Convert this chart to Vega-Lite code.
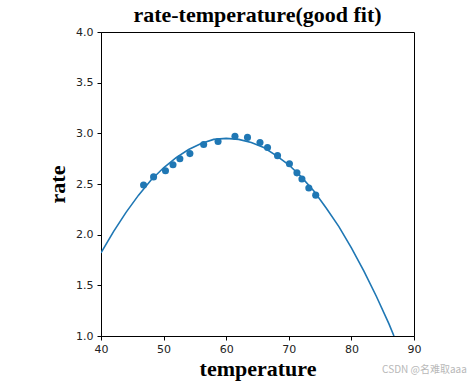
{
  "$schema": "https://vega.github.io/schema/vega-lite/v6.json",
  "width": 313,
  "height": 304,
  "autosize": {"type": "none"},
  "padding": {"left": 101, "top": 32, "right": 60, "bottom": 50},
  "background": "white",
  "title": {
    "text": "rate-temperature(good fit)",
    "font": "Liberation Serif",
    "fontSize": 22,
    "fontWeight": "bold",
    "color": "black",
    "anchor": "middle",
    "frame": "group",
    "offset": -1
  },
  "config": {
    "view": {"stroke": "black", "strokeWidth": 1},
    "axis": {
      "grid": false,
      "domainColor": "black",
      "tickColor": "black",
      "tickSize": 4,
      "labelFlush": false,
      "labelFont": "DejaVu Sans",
      "labelFontSize": 11,
      "labelColor": "#222",
      "titleFont": "Liberation Serif",
      "titleFontSize": 22,
      "titleFontWeight": "bold",
      "titleColor": "black"
    }
  },
  "datasets": {
    "obs": [
      {"temperature": 46.8, "rate": 2.49},
      {"temperature": 48.4, "rate": 2.57},
      {"temperature": 50.3, "rate": 2.63},
      {"temperature": 51.5, "rate": 2.69},
      {"temperature": 52.6, "rate": 2.75},
      {"temperature": 54.2, "rate": 2.80},
      {"temperature": 56.4, "rate": 2.89},
      {"temperature": 58.7, "rate": 2.92},
      {"temperature": 61.4, "rate": 2.97},
      {"temperature": 63.4, "rate": 2.96},
      {"temperature": 65.4, "rate": 2.91},
      {"temperature": 66.6, "rate": 2.86},
      {"temperature": 68.2, "rate": 2.78},
      {"temperature": 70.1, "rate": 2.70},
      {"temperature": 71.3, "rate": 2.61},
      {"temperature": 72.1, "rate": 2.55},
      {"temperature": 73.2, "rate": 2.46},
      {"temperature": 74.3, "rate": 2.39}
    ],
    "fit": [
      {"temperature": 40, "rate": 1.82},
      {"temperature": 42, "rate": 2.03},
      {"temperature": 44, "rate": 2.22},
      {"temperature": 46, "rate": 2.39},
      {"temperature": 48, "rate": 2.54},
      {"temperature": 50, "rate": 2.66},
      {"temperature": 52, "rate": 2.76},
      {"temperature": 54, "rate": 2.84},
      {"temperature": 56, "rate": 2.90},
      {"temperature": 58, "rate": 2.94},
      {"temperature": 60, "rate": 2.95},
      {"temperature": 62, "rate": 2.94},
      {"temperature": 64, "rate": 2.91},
      {"temperature": 66, "rate": 2.86},
      {"temperature": 68, "rate": 2.78},
      {"temperature": 70, "rate": 2.69},
      {"temperature": 72, "rate": 2.57},
      {"temperature": 74, "rate": 2.43},
      {"temperature": 76, "rate": 2.26},
      {"temperature": 78, "rate": 2.08},
      {"temperature": 80, "rate": 1.87},
      {"temperature": 82, "rate": 1.64},
      {"temperature": 84, "rate": 1.39},
      {"temperature": 86, "rate": 1.12},
      {"temperature": 86.8, "rate": 1.00}
    ],
    "mark": [
      {"temperature": 84.9, "rate": 0.665, "label": "CSDN @名难取aaa"}
    ]
  },
  "layer": [
    {
      "data": {"name": "fit"},
      "mark": {"type": "line", "color": "#1f77b4", "strokeWidth": 1.6, "clip": true},
      "encoding": {
        "x": {"field": "temperature", "type": "quantitative",
              "scale": {"domain": [40, 90], "nice": false, "zero": false},
              "axis": {"values": [40, 50, 60, 70, 80, 90], "format": "d", "labelPadding": 3, "titlePadding": 4, "title": "temperature"}},
        "y": {"field": "rate", "type": "quantitative",
              "scale": {"domain": [1, 4], "nice": false, "zero": false},
              "axis": {"values": [1, 1.5, 2, 2.5, 3, 3.5, 4], "format": ".1f", "labelPadding": 4, "titlePadding": 6, "title": "rate"}}
      }
    },
    {
      "data": {"name": "obs"},
      "mark": {"type": "point", "filled": true, "opacity": 1, "color": "#1f77b4", "size": 50},
      "encoding": {
        "x": {"field": "temperature", "type": "quantitative"},
        "y": {"field": "rate", "type": "quantitative"}
      }
    },
    {
      "data": {"name": "mark"},
      "mark": {"type": "text", "align": "left", "baseline": "middle", "font": "Noto Sans CJK SC", "fontSize": 10, "color": "#b8b8b8", "clip": false},
      "encoding": {
        "x": {"field": "temperature", "type": "quantitative"},
        "y": {"field": "rate", "type": "quantitative"},
        "text": {"field": "label"}
      }
    }
  ]
}
